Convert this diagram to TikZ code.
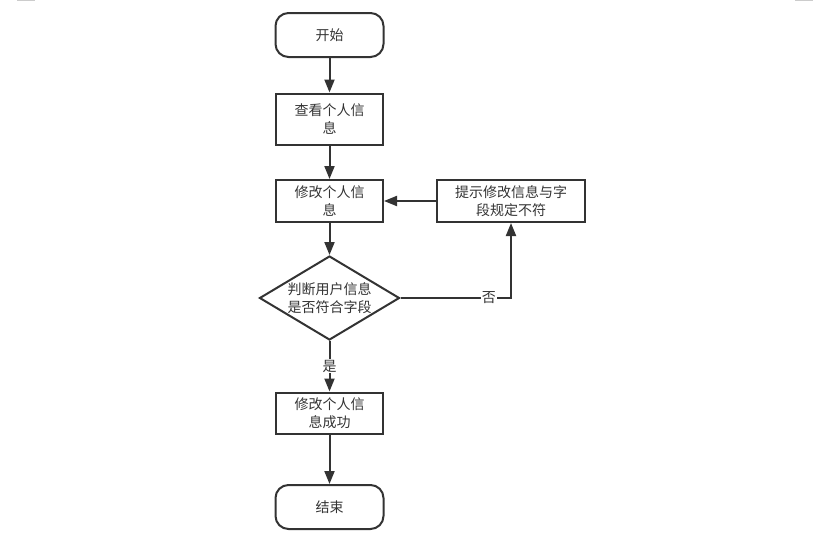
\documentclass[tikz,border=0pt]{standalone}
\usepackage{fontspec}
\setmainfont{Noto Sans CJK SC}
\usetikzlibrary{arrows.meta,shapes.geometric}
\definecolor{ln}{HTML}{333333}
\definecolor{tx}{HTML}{333333}
\begin{document}
\begin{tikzpicture}[x=1pt,y=-1pt,
  every node/.style={font=\fontsize{14}{17.5}\selectfont,text=tx,align=center,inner sep=0pt},
  term/.style={draw=ln,line width=2pt,rounded corners=13pt,minimum width=108pt,minimum height=44pt},
  proc/.style={draw=ln,line width=2pt,minimum width=107pt},
  dec/.style={draw=ln,line width=2pt,diamond,aspect=1.67,minimum width=140pt,minimum height=84pt},
  conn/.style={draw=ln,line width=2pt,-{Triangle[length=13pt,width=10pt]}},
  lbl/.style={fill=white,inner sep=1pt}]
\useasboundingbox (0,0) rectangle (830,536);
\fill[gray!40] (17,0) rectangle (35,1);
\fill[gray!40] (795,0) rectangle (813,1);
\node[term] (start) at (329.5,35) {开始};
\node[proc,minimum height=51pt] (view) at (329.5,119) {查看个人信\\息};
\node[proc,minimum height=42pt] (edit) at (329.5,201) {修改个人信\\息};
\node[proc,minimum width=148pt,minimum height=42pt] (hint) at (511,201) {提示修改信息与字\\段规定不符};
\node[dec] (check) at (329.5,298) {判断用户信息\\是否符合字段};
\node[proc,minimum height=41pt] (ok) at (329.5,413) {修改个人信\\息成功};
\node[term] (end) at (329.5,507) {结束};
\draw[conn] (start) -- (view);
\draw[conn] (view) -- (edit);
\draw[conn] (edit) -- (check);
\draw[conn] (hint) -- (edit);
\draw[conn] (check.east) -| node[lbl,pos=0.4] {否} (hint.south);
\draw[conn] (check) -- node[lbl,pos=0.5] {是} (ok);
\draw[conn] (ok) -- (end);
\end{tikzpicture}
\end{document}
